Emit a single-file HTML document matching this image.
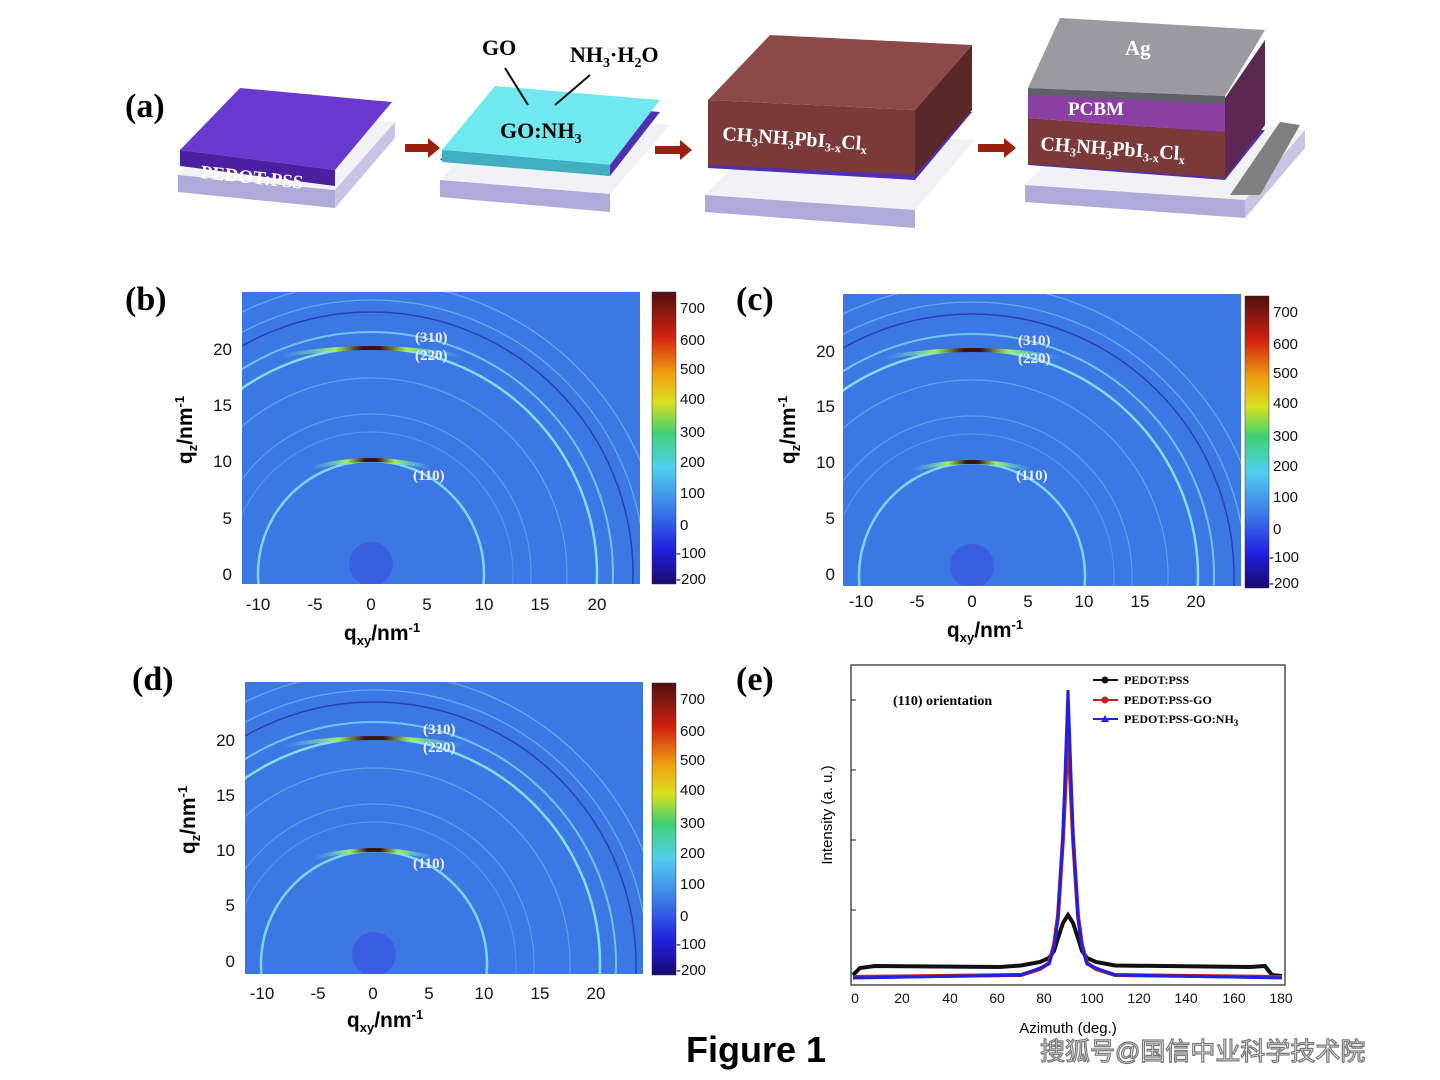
<!DOCTYPE html>
<html><head><meta charset="utf-8"><style>
html,body{margin:0;padding:0;background:#fff;overflow:hidden;width:1440px;height:1080px;}
svg{display:block;font-family:"Liberation Sans",Arial,sans-serif;}
.ser{font-family:"Liberation Serif",serif;font-weight:bold;}
</style></head><body>
<svg width="1440" height="1080" viewBox="0 0 1440 1080" xmlns="http://www.w3.org/2000/svg">
<defs>
<linearGradient id="cb" x1="0" y1="1" x2="0" y2="0">
<stop offset="0" stop-color="#1a0a70"/><stop offset="0.12" stop-color="#2020e0"/>
<stop offset="0.25" stop-color="#3a78e8"/><stop offset="0.4" stop-color="#50d0f0"/>
<stop offset="0.52" stop-color="#40d070"/><stop offset="0.62" stop-color="#d8e020"/>
<stop offset="0.72" stop-color="#f0a010"/><stop offset="0.85" stop-color="#d02010"/>
<stop offset="1" stop-color="#501010"/></linearGradient>
<linearGradient id="hot" x1="0" y1="0" x2="1" y2="0">
<stop offset="0" stop-color="#60e0f0" stop-opacity="0"/><stop offset="0.3" stop-color="#a0f060"/>
<stop offset="0.45" stop-color="#401010"/><stop offset="0.55" stop-color="#401010"/>
<stop offset="0.7" stop-color="#a0f060"/><stop offset="1" stop-color="#60e0f0" stop-opacity="0"/></linearGradient>
<clipPath id="hc"><rect x="0" y="0" width="398" height="292"/></clipPath>
<g id="heat">
<rect x="0" y="0" width="398" height="292" fill="#3c78e4"/>
<g clip-path="url(#hc)" fill="none">
<circle cx="129" cy="282" r="113" stroke="#7cd8f0" stroke-width="2.5"/>
<circle cx="129" cy="282" r="142" stroke="#5a96ea" stroke-width="1"/>
<circle cx="129" cy="282" r="160" stroke="#5c9cec" stroke-width="1.2"/>
<circle cx="129" cy="282" r="196" stroke="#5ea2ec" stroke-width="1.2"/>
<circle cx="129" cy="282" r="226" stroke="#80e0e8" stroke-width="2.5"/>
<circle cx="129" cy="282" r="242" stroke="#70c4ee" stroke-width="2"/>
<circle cx="129" cy="282" r="262" stroke="#2a40b0" stroke-width="1.5"/>
<circle cx="129" cy="282" r="274" stroke="#62aaee" stroke-width="1.3"/>
<circle cx="129" cy="282" r="292" stroke="#62aaee" stroke-width="1.3"/>
<path d="M69 176 Q129 160 189 176" stroke="url(#hot)" stroke-width="4"/>
<path d="M39 64 Q129 48 219 64" stroke="url(#hot)" stroke-width="4"/>
<circle cx="129" cy="272" r="22" fill="#3a5ee0"/>
</g></g>
<g id="cbar">
<rect x="0" y="0" width="24" height="292" fill="url(#cb)" stroke="#333" stroke-width="0.5"/>
<g font-size="15" fill="#111">
<text x="28" y="21">700</text><text x="28" y="53">600</text><text x="28" y="82">500</text>
<text x="28" y="112">400</text><text x="28" y="145">300</text><text x="28" y="175">200</text>
<text x="28" y="206">100</text><text x="28" y="238">0</text><text x="24" y="266">-100</text><text x="24" y="292">-200</text>
</g></g>
</defs>

<text x="125" y="117" font-size="34" class="ser">(a)</text>
<polygon points="178,175 335,190 395,122 240,110" fill="#f2f2f6"/>
<polygon points="178,175 178,192 335,208 335,190" fill="#b0aad8"/>
<polygon points="335,190 335,208 395,138 395,122" fill="#c8c4e4"/>
<polygon points="180,150 335,170 392,102 240,88" fill="#6a3ad0"/>
<polygon points="180,150 180,166 335,186 335,170" fill="#4a20a0"/>
<text x="200" y="178" font-size="19" class="ser" fill="#fff" transform="rotate(6 200 178)">PEDOT:PSS</text>
<polygon points="405,144 428,144 428,138 440,148 428,158 428,152 405,152" fill="#9a2010"/>
<polygon points="440,180 610,194 670,125 505,112" fill="#f2f2f6"/>
<polygon points="440,180 440,197 610,212 610,194" fill="#b0aad8"/>
<polygon points="440,160 610,176 660,112 495,98" fill="#5030b0"/>
<polygon points="442,150 610,165 660,100 495,86" fill="#70e8f0"/>
<polygon points="442,150 442,162 610,176 610,165" fill="#40b0c0"/>
<text x="500" y="138" font-size="22" class="ser">GO:NH<tspan font-size="14" dy="5">3</tspan></text>
<text x="482" y="55" font-size="22" class="ser">GO</text>
<text x="570" y="62" font-size="22" class="ser">NH<tspan font-size="14" dy="5">3</tspan><tspan dy="-5">·H</tspan><tspan font-size="14" dy="5">2</tspan><tspan dy="-5">O</tspan></text>
<line x1="505" y1="68" x2="528" y2="105" stroke="#111" stroke-width="2"/>
<line x1="590" y1="75" x2="555" y2="105" stroke="#111" stroke-width="2"/>
<polygon points="655,146 680,146 680,140 692,150 680,160 680,154 655,154" fill="#9a2010"/>
<polygon points="705,195 915,210 975,140 770,128" fill="#f2f2f6"/>
<polygon points="705,195 705,212 915,228 915,210" fill="#b0aad8"/>
<polygon points="708,168 915,180 972,112 708,110" fill="#5030b0"/>
<polygon points="708,100 915,110 915,175 708,165" fill="#7a3a3a"/>
<polygon points="915,110 972,45 972,110 915,175" fill="#5a2828"/>
<polygon points="708,100 770,35 972,45 915,110" fill="#8a4a48"/>
<text x="722" y="140" font-size="20" class="ser" fill="#fff" transform="rotate(4 722 140)">CH<tspan font-size="12" dy="4">3</tspan><tspan dy="-4">NH</tspan><tspan font-size="12" dy="4">3</tspan><tspan dy="-4">PbI</tspan><tspan font-size="12" dy="4">3-x</tspan><tspan dy="-4">Cl</tspan><tspan font-size="12" dy="4">x</tspan></text>
<polygon points="978,144 1004,144 1004,138 1016,148 1004,158 1004,152 978,152" fill="#9a2010"/>
<polygon points="1025,185 1245,200 1305,130 1090,118" fill="#f2f2f6"/>
<polygon points="1025,185 1025,202 1245,218 1245,200" fill="#b0aad8"/>
<polygon points="1245,200 1245,218 1305,148 1305,130" fill="#c8c4e4"/>
<polygon points="1230,195 1260,195 1300,125 1280,122" fill="#808080"/>
<polygon points="1028,165 1225,180 1265,130 1028,125" fill="#5030b0"/>
<polygon points="1028,118 1225,132 1225,178 1028,164" fill="#7a3a3a"/>
<polygon points="1028,90 1225,98 1225,132 1028,118" fill="#8a40a0"/>
<polygon points="1225,98 1265,40 1265,125 1225,178" fill="#5a2850"/>
<polygon points="1028,88 1225,96 1265,30 1060,18" fill="#9a9aa0"/>
<polygon points="1028,88 1028,95 1225,104 1225,96" fill="#606068"/>
<text x="1125" y="55" font-size="21" class="ser" fill="#fff">Ag</text>
<text x="1068" y="115" font-size="19" class="ser" fill="#fff">PCBM</text>
<text x="1040" y="150" font-size="20" class="ser" fill="#fff" transform="rotate(4 1040 150)">CH<tspan font-size="12" dy="4">3</tspan><tspan dy="-4">NH</tspan><tspan font-size="12" dy="4">3</tspan><tspan dy="-4">PbI</tspan><tspan font-size="12" dy="4">3-x</tspan><tspan dy="-4">Cl</tspan><tspan font-size="12" dy="4">x</tspan></text>

<text x="125" y="310" font-size="34" class="ser">(b)</text>
<use href="#heat" x="242" y="292"/>
<use href="#cbar" x="652" y="292"/>
<g font-size="17" fill="#111" text-anchor="end">
<text x="232" y="580">0</text><text x="232" y="524">5</text><text x="232" y="467">10</text><text x="232" y="411">15</text><text x="232" y="355">20</text></g>
<g font-size="17" fill="#111" text-anchor="middle">
<text x="258" y="610">-10</text><text x="315" y="610">-5</text><text x="371" y="610">0</text><text x="427" y="610">5</text><text x="484" y="610">10</text><text x="540" y="610">15</text><text x="597" y="610">20</text></g>
<text x="382" y="640" font-size="21" font-weight="bold" text-anchor="middle">q<tspan font-size="13" dy="5">xy</tspan><tspan dy="-5">/nm</tspan><tspan font-size="13" dy="-8">-1</tspan></text>
<text transform="translate(192 430) rotate(-90)" font-size="21" font-weight="bold" text-anchor="middle">q<tspan font-size="13" dy="5">z</tspan><tspan dy="-5">/nm</tspan><tspan font-size="13" dy="-8">-1</tspan></text>
<g class="ser" fill="#eef" font-size="15"><text x="415" y="342">(310)</text><text x="415" y="360">(220)</text><text x="413" y="480">(110)</text></g>

<text x="736" y="310" font-size="34" class="ser">(c)</text>
<use href="#heat" x="843" y="294"/>
<use href="#cbar" x="1245" y="296"/>
<g font-size="17" fill="#111" text-anchor="end">
<text x="835" y="580">0</text><text x="835" y="524">5</text><text x="835" y="468">10</text><text x="835" y="412">15</text><text x="835" y="357">20</text></g>
<g font-size="17" fill="#111" text-anchor="middle">
<text x="861" y="607">-10</text><text x="917" y="607">-5</text><text x="972" y="607">0</text><text x="1028" y="607">5</text><text x="1084" y="607">10</text><text x="1140" y="607">15</text><text x="1196" y="607">20</text></g>
<text x="985" y="637" font-size="21" font-weight="bold" text-anchor="middle">q<tspan font-size="13" dy="5">xy</tspan><tspan dy="-5">/nm</tspan><tspan font-size="13" dy="-8">-1</tspan></text>
<text transform="translate(795 430) rotate(-90)" font-size="21" font-weight="bold" text-anchor="middle">q<tspan font-size="13" dy="5">z</tspan><tspan dy="-5">/nm</tspan><tspan font-size="13" dy="-8">-1</tspan></text>
<g class="ser" fill="#eef" font-size="15"><text x="1018" y="345">(310)</text><text x="1018" y="363">(220)</text><text x="1016" y="480">(110)</text></g>

<text x="132" y="690" font-size="34" class="ser">(d)</text>
<use href="#heat" x="245" y="682"/>
<use href="#cbar" x="652" y="683"/>
<g font-size="17" fill="#111" text-anchor="end">
<text x="235" y="967">0</text><text x="235" y="911">5</text><text x="235" y="856">10</text><text x="235" y="801">15</text><text x="235" y="746">20</text></g>
<g font-size="17" fill="#111" text-anchor="middle">
<text x="262" y="999">-10</text><text x="318" y="999">-5</text><text x="373" y="999">0</text><text x="429" y="999">5</text><text x="484" y="999">10</text><text x="540" y="999">15</text><text x="596" y="999">20</text></g>
<text x="385" y="1027" font-size="21" font-weight="bold" text-anchor="middle">q<tspan font-size="13" dy="5">xy</tspan><tspan dy="-5">/nm</tspan><tspan font-size="13" dy="-8">-1</tspan></text>
<text transform="translate(195 820) rotate(-90)" font-size="21" font-weight="bold" text-anchor="middle">q<tspan font-size="13" dy="5">z</tspan><tspan dy="-5">/nm</tspan><tspan font-size="13" dy="-8">-1</tspan></text>
<g class="ser" fill="#eef" font-size="15"><text x="423" y="734">(310)</text><text x="423" y="752">(220)</text><text x="413" y="868">(110)</text></g>

<text x="736" y="690" font-size="34" class="ser">(e)</text>
<rect x="851" y="665" width="434" height="320" fill="none" stroke="#222" stroke-width="1.2"/>
<g stroke="#222" stroke-width="1">
<line x1="851" y1="700" x2="856" y2="700"/><line x1="851" y1="770" x2="856" y2="770"/><line x1="851" y1="840" x2="856" y2="840"/><line x1="851" y1="910" x2="856" y2="910"/>
</g>
<g font-size="14" fill="#111" text-anchor="middle">
<text x="855" y="1003">0</text><text x="902" y="1003">20</text><text x="950" y="1003">40</text><text x="997" y="1003">60</text><text x="1044" y="1003">80</text><text x="1092" y="1003">100</text><text x="1139" y="1003">120</text><text x="1186" y="1003">140</text><text x="1234" y="1003">160</text><text x="1281" y="1003">180</text></g>
<text x="1068" y="1033" font-size="15" text-anchor="middle">Azimuth (deg.)</text>
<text transform="translate(832 815) rotate(-90)" font-size="15" text-anchor="middle">Intensity (a. u.)</text>
<text x="893" y="705" font-size="14" class="ser">(110) orientation</text>
<path d="M853 975 L860 968 L875 966 L1000 967 L1021 965.5 L1040 962 L1049 958 L1054 951 L1058 938 L1063 923 L1068 915 L1073 923 L1078 938 L1082 951 L1087 958 L1096 962 L1115 965.5 L1250 967 L1265 966 L1272 975 L1282 976" fill="none" stroke="#111" stroke-width="4"/>
<path d="M853 977 L1021 975 L1040 969 L1049 963 L1054 945 L1058 916 L1063 838 L1068 730 L1073 838 L1078 916 L1082 945 L1087 963 L1096 969 L1115 975 L1282 977" fill="none" stroke="#c02020" stroke-width="4"/>
<path d="M853 978 L1021 975 L1040 968 L1049 964 L1054 947 L1058 918 L1063 833 L1068 690 L1073 833 L1078 918 L1082 947 L1087 964 L1096 968 L1115 975 L1282 978" fill="none" stroke="#2020e0" stroke-width="3"/>
<g font-size="12" class="ser">
<line x1="1093" y1="680" x2="1118" y2="680" stroke="#111" stroke-width="2"/><circle cx="1105" cy="680" r="3.5" fill="#111"/><text x="1124" y="684">PEDOT:PSS</text>
<line x1="1093" y1="700" x2="1118" y2="700" stroke="#c02020" stroke-width="2"/><circle cx="1105" cy="700" r="3.5" fill="#c02020"/><text x="1124" y="704">PEDOT:PSS-GO</text>
<line x1="1093" y1="719" x2="1118" y2="719" stroke="#2020e0" stroke-width="2"/><polygon points="1105,715 1109,722 1101,722" fill="#2020e0"/><text x="1124" y="723">PEDOT:PSS-GO:NH<tspan font-size="9" dy="3">3</tspan></text>
</g>

<text x="686" y="1062" font-size="36" font-weight="bold">Figure 1</text>
<text x="1040" y="1060" font-size="25" fill="#fff" stroke="#777" stroke-width="1.2" font-family="'Liberation Sans','Noto Sans CJK SC',sans-serif">搜狐号@国信中业科学技术院</text>
</svg>
</body></html>
